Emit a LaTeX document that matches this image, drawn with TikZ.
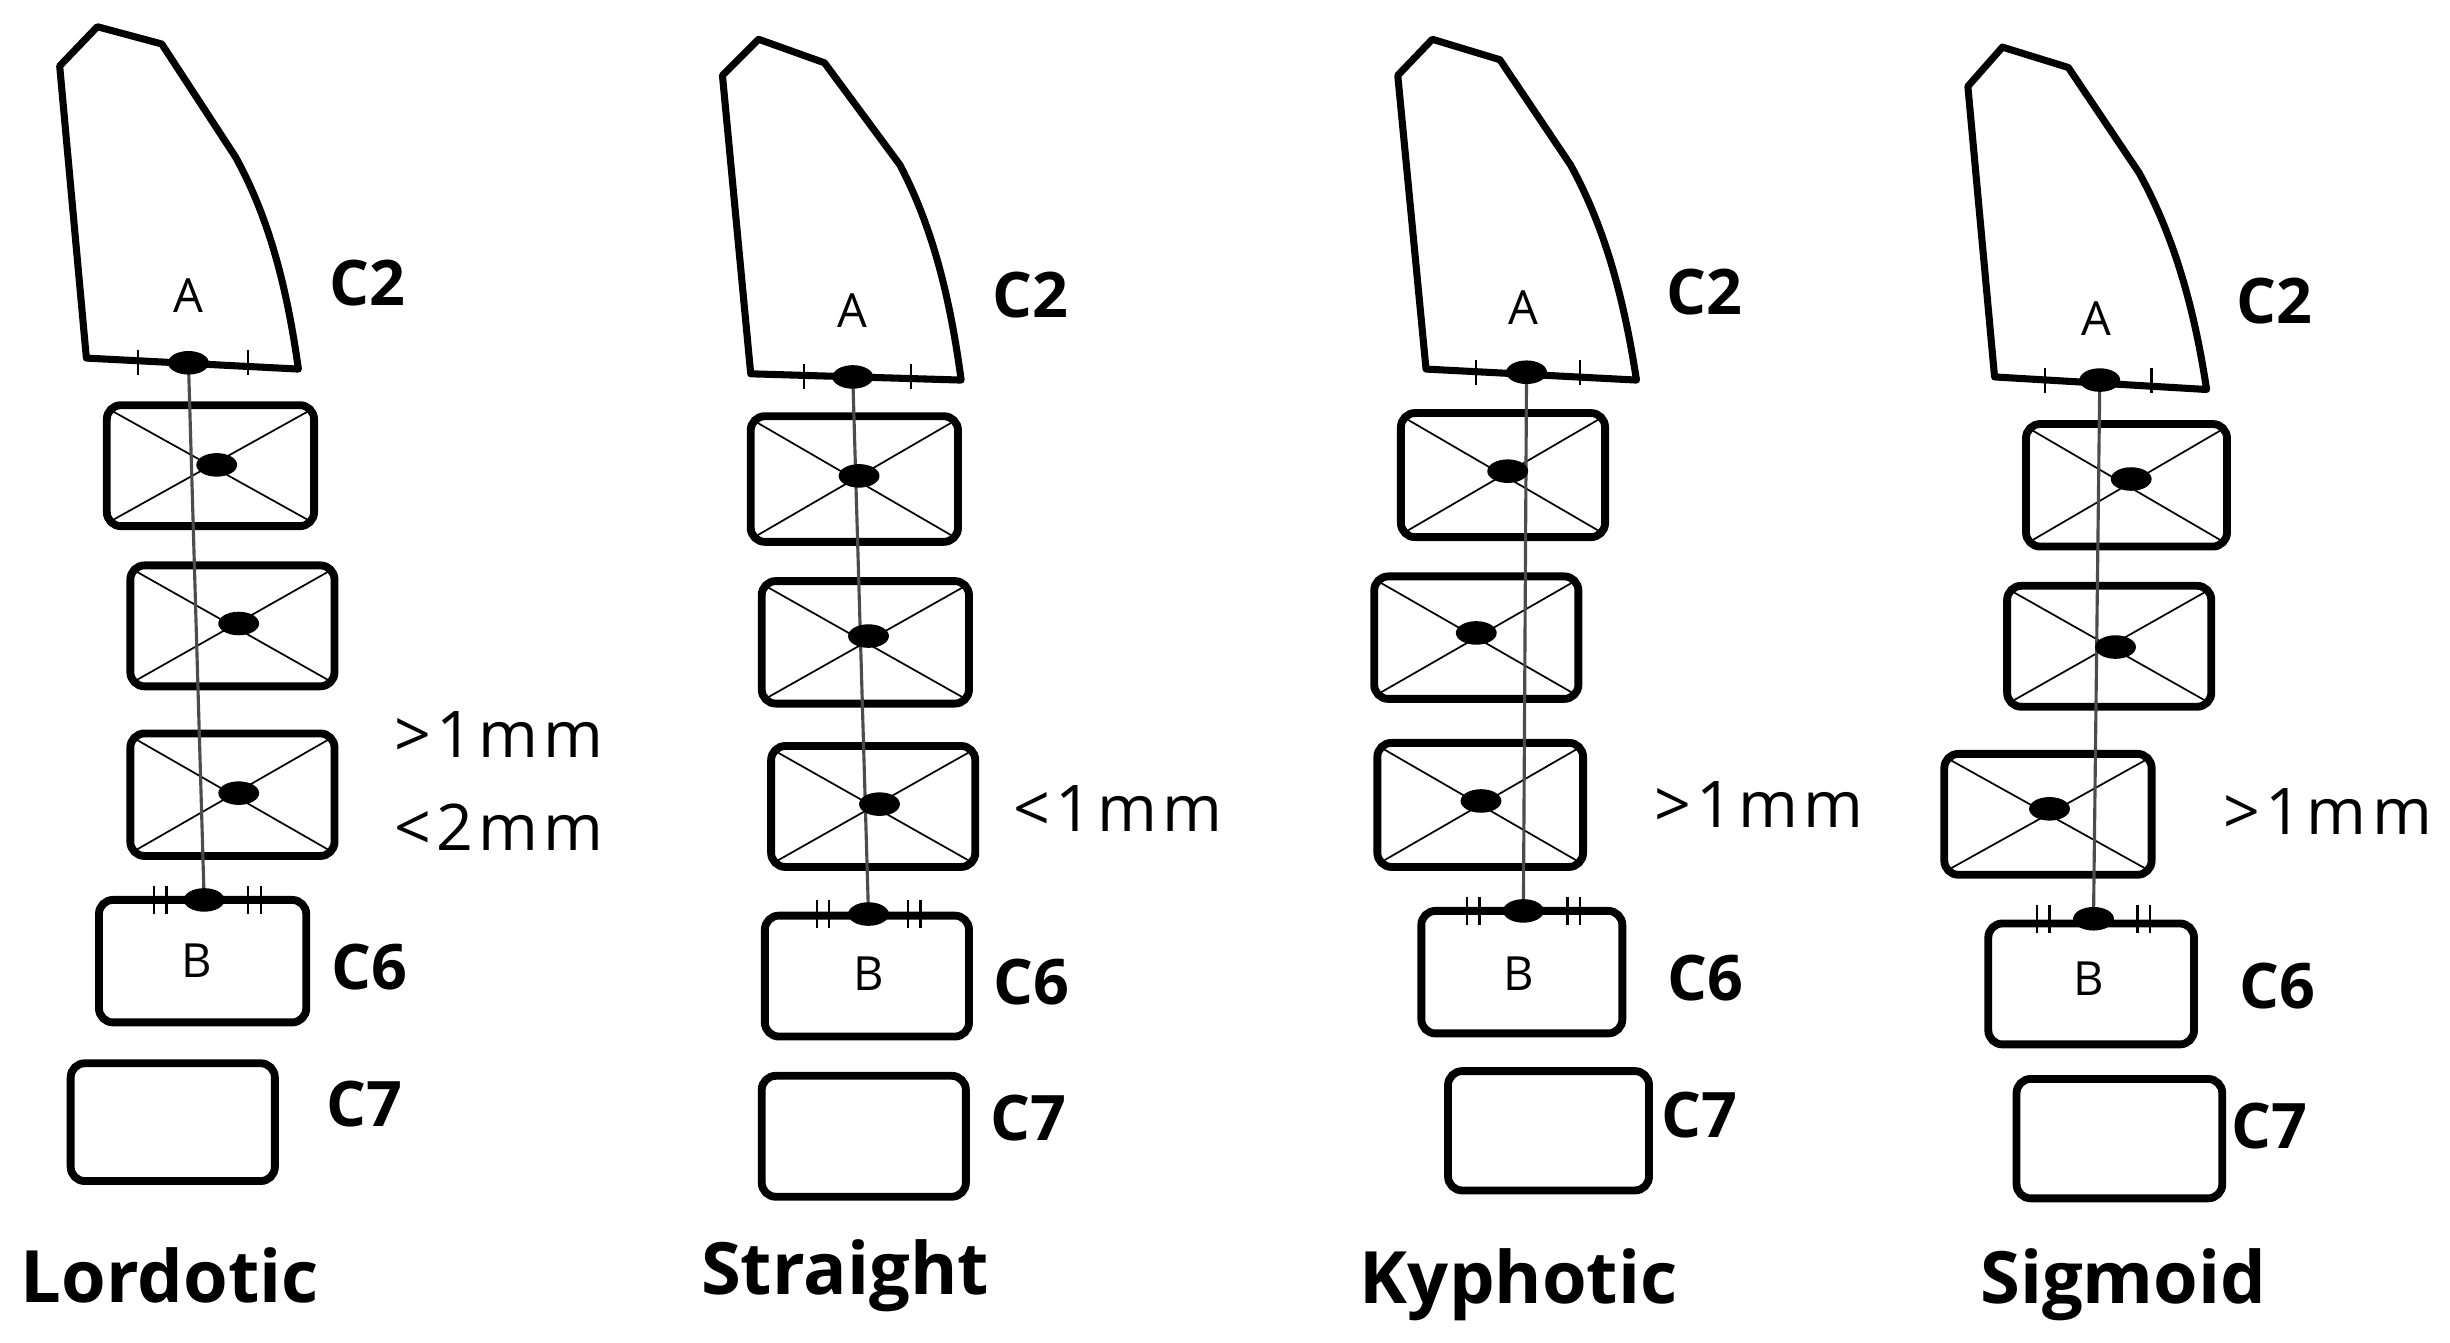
\documentclass[tikz,border=0pt]{standalone}
\usepackage{fontspec}
\setmainfont{Open Sans}
\newfontfamily\spaced[LetterSpace=8]{Open Sans}
\begin{document}
\begin{tikzpicture}[x=1pt,y=-1pt,
  bone/.style={line width=4.5pt,line join=round},
  boxst/.style={line width=5pt,rounded corners=9pt},
  diag/.style={line width=1.1pt},
  axisln/.style={line width=2pt,draw=black!70},
  lab/.style={font=\fontsize{40}{44}\selectfont\bfseries,anchor=center},
  mm/.style={font=\spaced\fontsize{41}{44}\selectfont,anchor=center},
  ab/.style={font=\fontsize{30}{34}\selectfont,anchor=center},
  title/.style={font=\fontsize{46}{50}\selectfont\bfseries,anchor=center}]
\useasboundingbox (0,0) rectangle (1560,855);
\newcommand\xbox[4]{\draw[boxst] (#1,#2) rectangle (#3,#4);
  \draw[diag] (#1+4,#2+4)--(#3-4,#4-4) (#1+4,#4-4)--(#3-4,#2+4);}
\newcommand\vdot[2]{\fill (#1,#2) ellipse (13 and 7.5);}
\newcommand\tickA[3]{\draw[line width=1.5pt] (#1,#3-8)--(#1,#3+8) (#2,#3-8)--(#2,#3+8);}
\newcommand\tickB[3]{\draw[line width=1.5pt] (#1-4,#3-9)--(#1-4,#3+9) (#1+4,#3-9)--(#1+4,#3+9)
  (#2-4,#3-9)--(#2-4,#3+9) (#2+4,#3-9)--(#2+4,#3+9);}
% Column 1
\draw[bone] (55,228)--(38,42)--(62,17)--(103,28)--(150,100) .. controls (172,140) and (183,185) .. (190,235)--cycle;
\coordinate (a1) at (120,231); \coordinate (b1) at (130,573);
\xbox{68}{258}{200}{335} \xbox{83}{360}{213}{437} \xbox{83}{467}{213}{545}
\draw[boxst] (63,573) rectangle (195,651); \draw[boxst] (45,677) rectangle (175,752);
\draw[axisln] (a1)--(b1);
\vdot{138}{296} \vdot{152}{397} \vdot{152}{505} \vdot{120}{231} \vdot{130}{573}
\tickA{88}{158}{231} \tickB{102}{162}{573}
\node[ab] (A1) at (120,188) {A}; \node[ab] (B1) at (125,612) {B};
\node[lab] (c21) at (234,180) {C2}; \node[lab] (c61) at (235,616) {C6}; \node[lab] (c71) at (232,703) {C7};
\node[mm] (m1) at (318,468) {>1mm}; \node[mm] (m1b) at (318,527) {<2mm};
\node[title] (t1) at (108,812) {Lordotic};
% Column 2
\draw[bone] (478,238)--(460,48)--(483,25)--(525,40)--(573,105) .. controls (594,145) and (605,190) .. (612,242)--cycle;
\coordinate (a2) at (543,240); \coordinate (b2) at (553,582);
\xbox{478}{265}{610}{345} \xbox{485}{370}{617}{448} \xbox{491}{475}{621}{552}
\draw[boxst] (487,583) rectangle (617,660); \draw[boxst] (485,685) rectangle (615,762);
\draw[axisln] (a2)--(b2);
\vdot{547}{303} \vdot{553}{405} \vdot{560}{512} \vdot{543}{240} \vdot{553}{582}
\tickA{512}{580}{240} \tickB{524}{582}{582}
\node[ab] (A2) at (543,198) {A}; \node[ab] (B2) at (553,620) {B};
\node[lab] (c22) at (656,188) {C2}; \node[lab] (c62) at (657,625) {C6}; \node[lab] (c72) at (655,712) {C7};
\node[mm] (m2) at (712,515) {<1mm};
\node[title] (t2) at (538,812) {Straight};
% Column 3
\draw[bone] (908,235)--(890,48)--(912,25)--(955,38)--(1000,105) .. controls (1022,145) and (1034,190) .. (1042,242)--cycle;
\coordinate (a3) at (972,237); \coordinate (b3) at (970,580);
\xbox{892}{263}{1022}{342} \xbox{875}{367}{1005}{445} \xbox{877}{473}{1008}{552}
\draw[boxst] (905,580) rectangle (1033,658); \draw[boxst] (922,682) rectangle (1050,758);
\draw[axisln] (a3)--(b3);
\vdot{960}{300} \vdot{940}{403} \vdot{943}{510} \vdot{972}{237} \vdot{970}{580}
\tickA{940}{1006}{237} \tickB{938}{1002}{580}
\node[ab] (A3) at (970,196) {A}; \node[ab] (B3) at (967,620) {B};
\node[lab] (c23) at (1085,186) {C2}; \node[lab] (c63) at (1086,623) {C6}; \node[lab] (c73) at (1082,710) {C7};
\node[mm] (m3) at (1120,512) {>1mm};
\node[title] (t3) at (967,818) {Kyphotic};
% Column 4
\draw[bone] (1270,240)--(1253,55)--(1275,30)--(1317,43)--(1362,110) .. controls (1384,150) and (1397,195) .. (1405,248)--cycle;
\coordinate (a4) at (1337,242); \coordinate (b4) at (1333,585);
\xbox{1290}{270}{1418}{348} \xbox{1278}{373}{1408}{450} \xbox{1238}{480}{1370}{557}
\draw[boxst] (1266,588) rectangle (1397,665); \draw[boxst] (1284,687) rectangle (1415,763);
\draw[axisln] (a4)--(b4);
\vdot{1357}{305} \vdot{1347}{412} \vdot{1305}{515} \vdot{1337}{242} \vdot{1333}{585}
\tickA{1302}{1370}{242} \tickB{1301}{1365}{585}
\node[ab] (A4) at (1335,203) {A}; \node[ab] (B4) at (1330,623) {B};
\node[lab] (c24) at (1448,192) {C2}; \node[lab] (c64) at (1450,628) {C6}; \node[lab] (c74) at (1445,717) {C7};
\node[mm] (m4) at (1482,517) {>1mm};
\node[title] (t4) at (1352,818) {Sigmoid};
\end{tikzpicture}
\end{document}
